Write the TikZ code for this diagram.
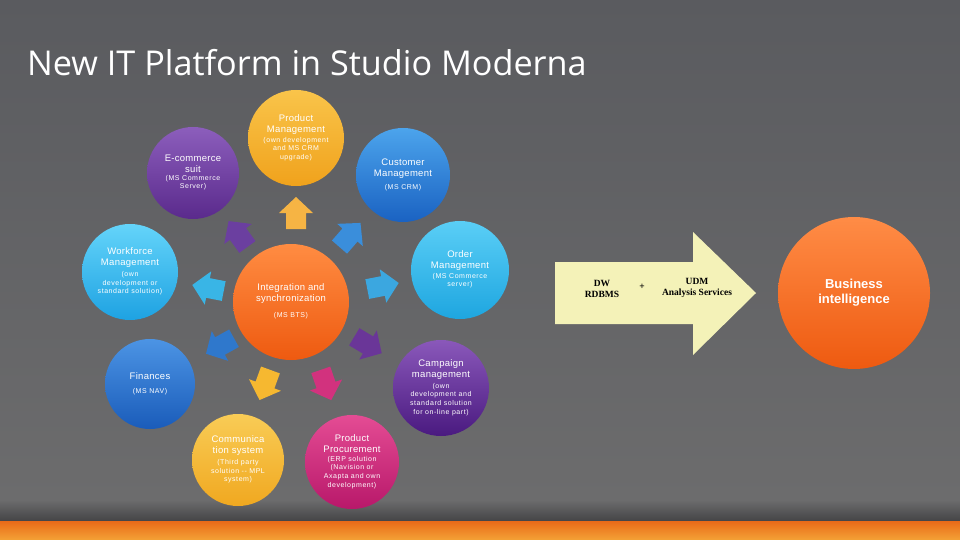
\documentclass[tikz,border=0pt]{standalone}
\usepackage{fontspec}
\setmainfont{Liberation Sans}
\newfontfamily\titlefont{Open Sans}
\newfontfamily\bubblefont[LetterSpace=3]{Liberation Sans}
\newfontfamily\subfont[LetterSpace=8]{Liberation Sans}
\newfontfamily\arrowfont{Liberation Serif}
\newcommand{\subnote}[1]{{\subfont\fontsize{7}{8.6}\selectfont\begin{tabular}{@{}c@{}}#1\end{tabular}}}

\definecolor{bgtop}{HTML}{5A5B5F}
\definecolor{bgbot}{HTML}{6C6C6D}
\definecolor{bgshade}{HTML}{444446}
\definecolor{barA}{HTML}{E86A18}
\definecolor{barB}{HTML}{F4A236}
\definecolor{prodA}{HTML}{F9C44A}\definecolor{prodB}{HTML}{F0A21C}
\definecolor{ecomA}{HTML}{8C5EBC}\definecolor{ecomB}{HTML}{5A2A8C}
\definecolor{custA}{HTML}{4CA4EC}\definecolor{custB}{HTML}{1A62C2}
\definecolor{workA}{HTML}{64D4FA}\definecolor{workB}{HTML}{1EA2E2}
\definecolor{hubA}{HTML}{FF8C42}\definecolor{hubB}{HTML}{EE5A10}
\definecolor{ordA}{HTML}{5ACEF6}\definecolor{ordB}{HTML}{1EA6E0}
\definecolor{finA}{HTML}{4C94E4}\definecolor{finB}{HTML}{1A5CBA}
\definecolor{campA}{HTML}{8A58BA}\definecolor{campB}{HTML}{4A1A80}
\definecolor{commA}{HTML}{F9CC56}\definecolor{commB}{HTML}{F0A820}
\definecolor{procA}{HTML}{E44C94}\definecolor{procB}{HTML}{B8186A}
\definecolor{biA}{HTML}{FF8C46}\definecolor{biB}{HTML}{EE5A10}
\definecolor{bigarrow}{HTML}{F4F2B8}
\definecolor{arrorange}{HTML}{F6B444}
\definecolor{arrpurple}{HTML}{6B3FA0}
\definecolor{arrblue}{HTML}{3A8EDB}
\definecolor{arrcyan}{HTML}{39B5E6}
\definecolor{arrcyantwo}{HTML}{3BA7E0}
\definecolor{arrbluetwo}{HTML}{2F78CC}
\definecolor{arrpurpletwo}{HTML}{6A3698}
\definecolor{arryellow}{HTML}{F6B830}
\definecolor{arrpink}{HTML}{D2327E}

\begin{document}
\begin{tikzpicture}[x=1pt,y=-1pt,
		bubble/.style 2 args={circle,inner sep=0pt,align=center,text=white,
			top color=#1,bottom color=#2,font=\bubblefont\fontsize{9.5}{11}\selectfont},
		dwtext/.style={align=center,text=black,inner sep=1pt,
			font=\arrowfont\bfseries\fontsize{9.5}{11.5}\selectfont}]
		\useasboundingbox (0,0) rectangle (960,540);
		% background and bottom bar
		\fill[top color=bgtop,bottom color=bgbot] (0,0) rectangle (960,500);
		\fill[top color=bgbot,bottom color=bgshade] (0,500) rectangle (960,521);
		\fill[top color=barA,bottom color=barB] (0,521) rectangle (960,540);
		\node[anchor=base west,text=white,inner sep=0pt,
			font=\titlefont\fontsize{34.2}{40}\selectfont] (title) at (27,76) {New IT Platform in Studio Moderna};
		% small arrows round the hub
		\foreach \px/\py/\ang/\col in {296/213/90/arrorange, 238/234/126/arrpurple,
			350/235/49/arrblue, 208/288/169/arrcyan, 383/286/11/arrcyantwo,
			220/346/209/arrbluetwo, 368/345/329/arrpurpletwo,
			265/385/250/arryellow, 326/385/289/arrpink}
		{
			\begin{scope}[shift={(\px,\py)},rotate=\ang]
			\fill[\col] (-16,-10) -- (0,-10) -- (0,-17) -- (16,0) -- (0,17) -- (0,10) -- (-16,10) -- cycle;
			\end{scope}
		}
		% systems
		\node[bubble={prodA}{prodB},minimum size=96pt] (prod) at (296,138)
			{Product\\Management\\[1pt]\subnote{(own development\\and MS CRM\\upgrade)}};
		\node[bubble={ecomA}{ecomB},minimum size=92pt] (ecom) at (193,173)
			{E-commerce\\suit\\[1pt]\subnote{(MS Commerce\\Server)}};
		\node[bubble={custA}{custB},minimum size=94pt] (cust) at (403,175)
			{Customer\\Management\\[2pt]\subnote{(MS CRM)}};
		\node[bubble={workA}{workB},minimum size=96pt] (work) at (130,272)
			{Workforce\\Management\\[2pt]\subnote{(own\\development or\\standard solution)}};
		\node[bubble={hubA}{hubB},minimum size=116pt] (hub) at (291,302)
			{Integration and\\synchronization\\[5pt]\subnote{(MS BTS)}};
		\node[bubble={ordA}{ordB},minimum size=98pt] (ord) at (460,270)
			{Order\\Management\\[1pt]\subnote{(MS Commerce\\server)}};
		\node[bubble={finA}{finB},minimum size=90pt] (fin) at (150,384)
			{Finances\\[3pt]\subnote{(MS NAV)}};
		\node[bubble={campA}{campB},minimum size=96pt] (camp) at (441,388)
			{Campaign\\management\\[2pt]\subnote{(own\\development and\\standard solution\\for on-line part)}};
		\node[bubble={commA}{commB},minimum size=92pt] (comm) at (238,460)
			{Communica\\tion system\\[2pt]\subnote{(Third party\\solution -- MPL\\system)}};
		\node[bubble={procA}{procB},minimum size=94pt] (proc) at (352,462)
			{Product\\Procurement\\[2pt]\subnote{(ERP solution\\(Navision or\\Axapta and own\\development)}};
		% data warehouse arrow
		\fill[bigarrow] (555,262) -- (693,262) -- (693,232) -- (756,293) -- (693,355)
			-- (693,324) -- (555,324) -- cycle;
		\node[dwtext] (dw) at (602,289) {DW\\RDBMS};
		\node[dwtext] (plus) at (642,287) {+};
		\node[dwtext] (udm) at (697,288) {UDM\\Analysis Services};
		\node[bubble={biA}{biB},minimum size=152pt,
			font=\fontsize{13}{15}\selectfont\bfseries] (bi) at (854,293) {Business\\intelligence};
\end{tikzpicture}
\end{document}
